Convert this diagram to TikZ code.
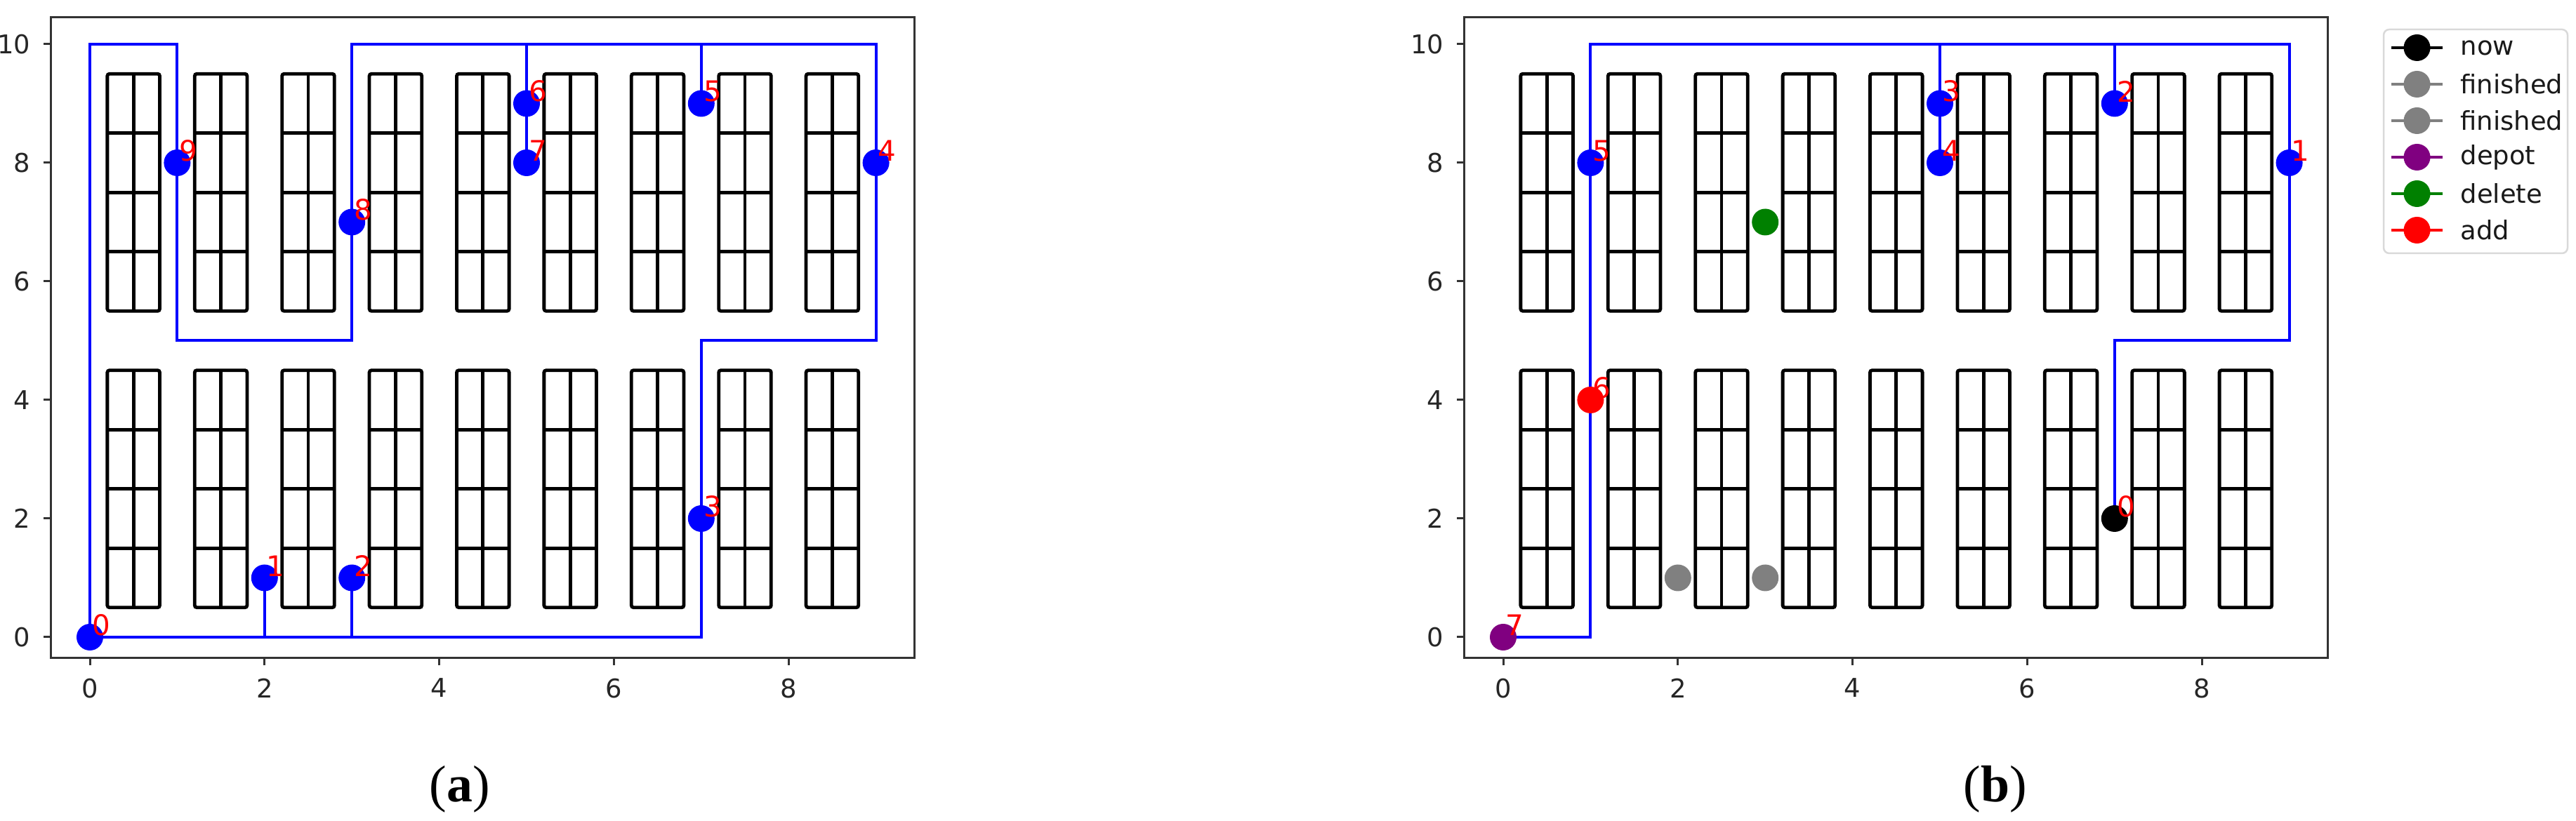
\documentclass[tikz,border=0pt]{standalone}
\usepackage{fontspec}
\setmainfont{DejaVu Sans}
\newfontfamily\capfont{Liberation Serif}
\definecolor{mplpurple}{RGB}{128,0,128}
\definecolor{mplgreen}{RGB}{0,128,0}
\definecolor{mplgray}{RGB}{128,128,128}
\begin{document}
\begin{tikzpicture}[x=1mm,y=1mm,
  rack/.style={draw=black,line width=0.48mm,rounded corners=0.3mm},
  cell/.style={draw=black,line width=0.48mm},
  route/.style={draw=blue,line width=0.4mm},
  pt/.style={circle,inner sep=0pt,minimum size=3.8mm},
  lab/.style={text=red,font=\fontsize{11.5pt}{12pt}\selectfont,inner sep=0pt,anchor=south west},
  tick/.style={text=black!85,font=\fontsize{10.5pt}{12pt}\selectfont},
  frame/.style={draw=black!80,line width=0.3mm}]
\useasboundingbox (0,0) rectangle (366.9,117);
\newcommand\mywarehouse[1]{%
\begin{scope}[shift={(#1,26.2)},x=12.44mm,y=8.45mm]
  \draw[frame] (-0.45,-0.355) rectangle (9.44,10.46);
  \foreach \i in {0,...,8}{
    \foreach \b in {0.5,5.5}{
      \draw[cell] (\i+0.5,\b) -- (\i+0.5,\b+4);
      \foreach \d in {1,2,3}{\draw[cell] (\i+0.2,\b+\d) -- (\i+0.8,\b+\d);}
      \draw[rack] (\i+0.2,\b) rectangle (\i+0.8,\b+4);
    }
  }
  \foreach \t in {0,2,4,6,8}{
    \draw[frame] (\t,-0.355) -- (\t,-0.47);
    \node[tick,anchor=north] at (\t,-0.55) {\t};}
  \foreach \t in {0,2,4,6,8,10}{
    \draw[frame] (-0.45,\t) -- (-0.53,\t);
    \node[tick,anchor=east] at (-0.58,\t) {\t};}
\end{scope}}
\mywarehouse{12.8}
\mywarehouse{214.1}
% panel a
\begin{scope}[shift={(12.8,26.2)},x=12.44mm,y=8.45mm]
  \coordinate (a00) at (0,0); \coordinate (a010) at (0,10); \coordinate (a110) at (1,10);
  \coordinate (a15) at (1,5); \coordinate (a35) at (3,5); \coordinate (a310) at (3,10);
  \coordinate (a910) at (9,10); \coordinate (a95) at (9,5); \coordinate (a75) at (7,5);
  \coordinate (a70) at (7,0); \coordinate (a20) at (2,0); \coordinate (a30) at (3,0);
  \coordinate (a510) at (5,10); \coordinate (a710) at (7,10);
  \draw[route] (a00) -- (a010) -- (a110) -- (a15) -- (a35) -- (a310) -- (a910) -- (a95) -- (a75) -- (a70) -- cycle;
  \draw[route] (a20) -- (2,1); \draw[route] (a30) -- (3,1);
  \draw[route] (a510) -- (5,8); \draw[route] (a710) -- (7,9);
  \foreach \n/\x/\y in {0/0/0,1/2/1,2/3/1,3/7/2,4/9/8,5/7/9,6/5/9,7/5/8,8/3/7,9/1/8}{
    \node[pt,fill=blue] (pa\n) at (\x,\y) {};
    \node[lab] (la\n) at (\x+0.02,\y+0.02) {\n};}
\end{scope}
% panel b
\begin{scope}[shift={(214.1,26.2)},x=12.44mm,y=8.45mm]
  \coordinate (b00) at (0,0); \coordinate (b10) at (1,0); \coordinate (b110) at (1,10);
  \coordinate (b910) at (9,10); \coordinate (b95) at (9,5); \coordinate (b75) at (7,5);
  \coordinate (b72) at (7,2); \coordinate (b510) at (5,10); \coordinate (b710) at (7,10);
  \draw[route] (b00) -- (b10) -- (b110) -- (b910) -- (b95) -- (b75) -- (b72);
  \draw[route] (b510) -- (5,8); \draw[route] (b710) -- (7,9);
  \foreach \n/\x/\y/\c in {0/7/2/black,1/9/8/blue,2/7/9/blue,3/5/9/blue,4/5/8/blue,5/1/8/blue,6/1/4/red,7/0/0/mplpurple}{
    \node[pt,fill=\c] (pb\n) at (\x,\y) {};
    \node[lab] (lb\n) at (\x+0.02,\y+0.02) {\n};}
  \node[pt,fill=mplgray] (g1) at (2,1) {};
  \node[pt,fill=mplgray] (g2) at (3,1) {};
  \node[pt,fill=mplgreen] (gd) at (3,7) {};
\end{scope}
% legend
\draw[draw=black!15,line width=0.25mm,rounded corners=0.8mm,fill=white] (339.5,80.9) rectangle (365.7,112.8);
\foreach \k/\c/\t in {0/black/now,1/mplgray/finished,2/mplgray/finished,3/mplpurple/depot,4/mplgreen/delete,5/red/add}{
  \coordinate (l\k) at (340.6,110.2-5.2*\k);
  \coordinate (r\k) at (347.9,110.2-5.2*\k);
  \draw[draw=\c,line width=0.4mm] (l\k) -- (r\k);
  \node[pt,fill=\c] (m\k) at (344.25,110.2-5.2*\k) {};
  \node[anchor=west,inner sep=0pt,text=black!90,font=\fontsize{10.5pt}{12pt}\selectfont] (t\k) at (350.4,110.2-5.2*\k) {\t};
}
% captions
\node[font=\capfont\fontsize{21pt}{24pt}\selectfont] (capa) at (65.5,4.5) {(\textbf{a})};
\node[font=\capfont\fontsize{21pt}{24pt}\selectfont] (capb) at (284.2,4.5) {(\textbf{b})};
\end{tikzpicture}
\end{document}
